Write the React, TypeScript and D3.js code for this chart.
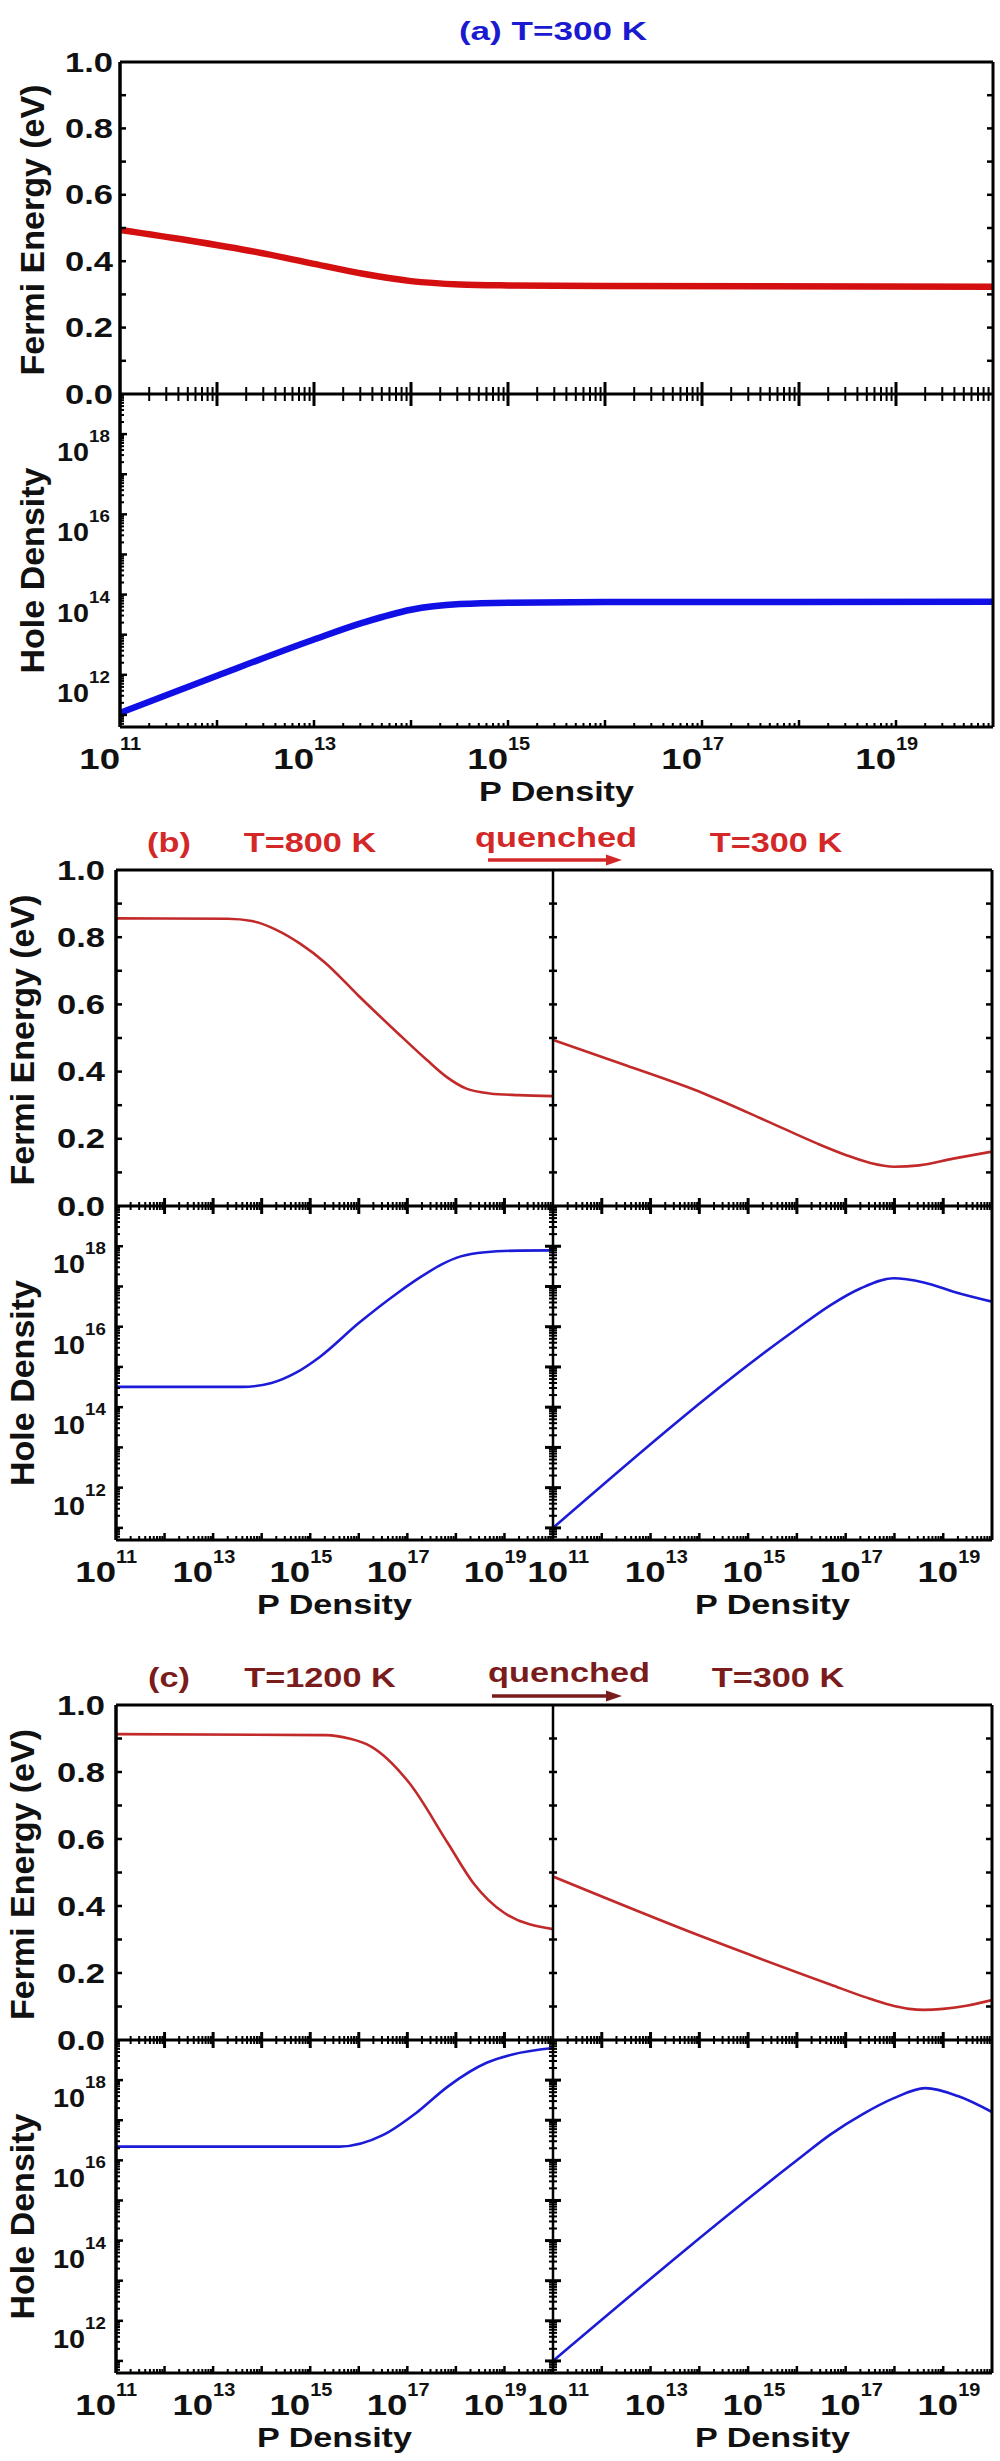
import React, { useEffect, useRef } from 'react';
import * as d3 from 'd3';

const W = 1000;
const H = 2461;
const FONT = '"Liberation Sans", Arial, Helvetica, sans-serif';

// axes
const pDomain: [number, number] = [1e11, 1e20];
const holeDomain: [number, number] = [5e10, 1e19];
const fermiTickLabels = [0, 0.2, 0.4, 0.6, 0.8, 1.0];
const holeTickLabels = [1e12, 1e14, 1e16, 1e18];
const pTickLabels = [1e11, 1e13, 1e15, 1e17, 1e19];

// (a) T=300 K
const aFermiP = [1e11, 5e11, 2.5e12, 1e13, 3.2e13, 1e14, 3.2e14, 1e15, 1e16, 1e20];
const aFermiE = [0.494, 0.463, 0.428, 0.392, 0.362, 0.340, 0.330, 0.327, 0.325, 0.323];
const aHoleP = [1e11, 1e12, 1e13, 3.2e13, 1e14, 3.2e14, 1e15, 1e16, 1e20];
const aHoleN = [1.12e11, 9.5e11, 7.6e12, 2e13, 4.2e13, 5.8e13, 6.3e13, 6.5e13, 6.6e13];

// (b) T=800 K, then quenched to 300 K
const b800FermiP = [1e11, 2e13, 6.3e13, 2e14, 6.3e14, 2e15, 1e16, 6.3e16, 2.5e17, 6.3e17, 1.6e18, 5e18, 2e19, 1e20];
const b800FermiE = [0.856, 0.855, 0.848, 0.822, 0.78, 0.725, 0.625, 0.515, 0.435, 0.385, 0.35, 0.335, 0.33, 0.327];
const b800HoleP = [1e11, 4e13, 1.6e14, 5e14, 1.6e15, 1e16, 6.3e16, 2e17, 5e17, 1.26e18, 4e18, 2e19, 1e20];
const b800HoleN = [3.2e14, 3.2e14, 4e14, 7.1e14, 1.8e15, 1.23e16, 6.9e16, 1.8e17, 3.5e17, 5.6e17, 7.1e17, 7.8e17, 7.9e17];
const b300FermiP = [1e11, 3.2e12, 1.23e14, 2.5e15, 2.5e16, 1e17, 3.2e17, 1e18, 3.2e18, 1.6e19, 1e20];
const b300FermiE = [0.494, 0.418, 0.335, 0.252, 0.187, 0.152, 0.128, 0.117, 0.121, 0.141, 0.162];
const b300HoleP = [1e11, 1e16, 5e16, 2e17, 9.5e17, 4e18, 2e19, 1e20];
const b300HoleN = [1e11, 8.9e15, 3.5e16, 8.9e16, 1.6e17, 1.26e17, 6.9e16, 4.2e16];

// (c) T=1200 K, then quenched to 300 K
const c1200FermiP = [1e11, 2.1e15, 6.3e15, 1.8e16, 1.1e17, 6.8e17, 2.3e18, 1e19, 1e20];
const c1200FermiE = [0.913, 0.91, 0.9, 0.876, 0.767, 0.588, 0.468, 0.379, 0.331];
const c1200HoleP = [1e11, 4e15, 3.2e16, 1.5e17, 6.8e17, 4.3e18, 1.4e19, 1e20];
const c1200HoleN = [2.2e16, 2.2e16, 4.3e16, 1.5e17, 6.9e17, 2.7e18, 4.3e18, 6.3e18];
const c300FermiP = [1e11, 1.17e14, 5e16, 2.5e17, 7.9e17, 2e18, 4e18, 1e19, 3.2e19, 1e20];
const c300FermiE = [0.488, 0.308, 0.165, 0.128, 0.105, 0.093, 0.09, 0.093, 0.103, 0.119];
const c300HoleP = [1e11, 1e16, 5e16, 2.2e17, 9.5e17, 4.3e18, 2e19, 1e20];
const c300HoleN = [1e11, 1e16, 4.5e16, 1.4e17, 3.5e17, 6.3e17, 4e17, 1.6e17];

// titles
const titleA = '(a) T=300 K';
const rowB = ['(b)', 'T=800 K', 'quenched', 'T=300 K'];
const rowC = ['(c)', 'T=1200 K', 'quenched', 'T=300 K'];

interface Sub {
  id: string;
  x0: number; x1: number;
  yTop: number; yMid: number; yBot: number;
  fermi: [number[], number[]];
  hole: [number[], number[]];
  lw: number;
  red: string; blue: string;
  first: boolean; last: boolean;
  midMajor: number; midMinor: number;
  labelShift: number;
  fermiGap: number;
  titleX: number;
  frameW: number;
}

const SX = 1.27;

function stext(g: any, x: number, y: number, s: string, size: number,
  anchor = 'middle', fill = '#111', sx = SX) {
  return g.append('text')
    .attr('transform', `translate(${x},${y}) scale(${sx},1)`)
    .attr('text-anchor', anchor)
    .attr('font-family', FONT)
    .attr('font-weight', 'bold')
    .attr('font-size', size)
    .attr('fill', fill)
    .text(s);
}

function drawSub(svg: any, o: Sub) {
  const x = d3.scaleLog().domain(pDomain).range([o.x0, o.x1]);
  const yE = d3.scaleLinear().domain([0, 1]).range([o.yMid, o.yTop]);
  const yH = d3.scaleLog().domain(holeDomain).range([o.yBot, o.yMid]);

  // curves
  svg.append('clipPath').attr('id', 'cf' + o.id).append('rect')
    .attr('x', o.x0).attr('y', o.yTop).attr('width', o.x1 - o.x0).attr('height', o.yMid - o.yTop);
  svg.append('clipPath').attr('id', 'ch' + o.id).append('rect')
    .attr('x', o.x0).attr('y', o.yMid).attr('width', o.x1 - o.x0).attr('height', o.yBot - o.yMid);

  const lineE = d3.line<[number, number]>()
    .x(d => x(d[0])).y(d => yE(d[1])).curve(d3.curveMonotoneX);
  const lineH = d3.line<[number, number]>()
    .x(d => x(d[0])).y(d => yH(d[1])).curve(d3.curveMonotoneX);

  svg.append('path')
    .attr('d', lineE(d3.zip(o.fermi[0], o.fermi[1]) as [number, number][]))
    .attr('clip-path', `url(#cf${o.id})`)
    .attr('fill', 'none').attr('stroke', o.red).attr('stroke-width', o.lw)
    .attr('stroke-linejoin', 'round');
  svg.append('path')
    .attr('d', lineH(d3.zip(o.hole[0], o.hole[1]) as [number, number][]))
    .attr('clip-path', `url(#ch${o.id})`)
    .attr('fill', 'none').attr('stroke', o.blue).attr('stroke-width', o.lw)
    .attr('stroke-linejoin', 'round');

  const ax = svg.append('g').attr('stroke', '#000').attr('fill', 'none');
  const tick = (x1: number, y1: number, x2: number, y2: number, w = 2) =>
    ax.append('line').attr('x1', x1).attr('y1', y1).attr('x2', x2).attr('y2', y2).attr('stroke-width', w);

  // frame
  tick(o.x0, o.yTop, o.x1, o.yTop, o.frameW);
  tick(o.x0, o.yBot, o.x1, o.yBot, o.frameW);
  tick(o.x0, o.yMid, o.x1, o.yMid, o.frameW);
  tick(o.x0, o.yTop, o.x0, o.yBot, o.first ? o.frameW + 0.5 : 2.5);
  if (o.last) tick(o.x1, o.yTop, o.x1, o.yBot, o.frameW);

  // x ticks on middle and bottom lines
  x.ticks().forEach(v => {
    const px = x(v);
    if (px <= o.x0 + 1 || px >= o.x1 - 1) return;
    const major = Math.abs(Math.log10(v) - Math.round(Math.log10(v))) < 1e-6;
    const m = major ? o.midMajor : o.midMinor;
    tick(px, o.yMid - m, px, o.yMid + m, major ? 3 : 2);
    tick(px, o.yBot, px, o.yBot - (major ? 7 : 4), major ? 2.5 : 2);
  });

  // fermi ticks every 0.1
  d3.range(1, 10).forEach(i => {
    const py = yE(i / 10);
    if (o.first) tick(o.x0, py, o.x0 + 6, py, 2.5);
    else tick(o.x0 - 4, py, o.x0 + 4, py, 2.5);
    if (o.last) tick(o.x1 - 6, py, o.x1, py, 2.5);
  });

  // hole ticks
  yH.ticks().forEach(v => {
    const py = yH(v);
    if (py <= o.yMid + 1 || py >= o.yBot - 1) return;
    const major = Math.abs(Math.log10(v) - Math.round(Math.log10(v))) < 1e-6;
    const m = major ? 7 : 4;
    if (o.first) tick(o.x0, py, o.x0 + m, py, major ? 2.5 : 2);
    else tick(o.x0 - (major ? 8 : 4), py, o.x0 + (major ? 8 : 4), py, major ? 3 : 2);
  });

  const lab = svg.append('g');
  // x tick labels
  pTickLabels.forEach(v => {
    const px = x(v) + o.labelShift;
    stext(lab, px, o.yBot + 42, '10', 30, 'end', '#111', 1.22);
    stext(lab, px, o.yBot + 23, String(Math.round(Math.log10(v))), 19, 'start', '#111', 1.05);
  });
  stext(lab, (o.x0 + o.x1) / 2, o.yBot + 74, 'P Density', 28, 'middle', '#111', 1.22);

  if (o.first) {
    fermiTickLabels.forEach(v => {
      stext(lab, o.x0 - o.fermiGap, yE(v) + 9.5, v.toFixed(1), 27, 'end', '#111', 1.28);
    });
    holeTickLabels.forEach(v => {
      const py = yH(v);
      stext(lab, o.x0 - 31, py + 27, '10', 25, 'end', '#111', 1.15);
      stext(lab, o.x0 - 31, py + 8, String(Math.round(Math.log10(v))), 17, 'start', '#111', 1.1);
    });
    lab.append('text')
      .attr('transform', `translate(${o.titleX},${(o.yTop + o.yMid) / 2 + 2}) rotate(-90)`)
      .attr('text-anchor', 'middle').attr('font-family', FONT).attr('font-weight', 'bold')
      .attr('font-size', 34).attr('fill', '#111').text('Fermi Energy (eV)');
    lab.append('text')
      .attr('transform', `translate(${o.titleX},${(o.yMid + o.yBot) / 2 + 10}) rotate(-90)`)
      .attr('text-anchor', 'middle').attr('font-family', FONT).attr('font-weight', 'bold')
      .attr('font-size', 34).attr('fill', '#111').text('Hole Density');
  }
}

function drawRow(svg: any, row: string[], xs: number[], y: number, color: string,
  arrow: [number, number, number]) {
  row.forEach((s, i) => {
    stext(svg, xs[i], y - (i === 2 ? 5 : 0), s, 27, 'middle', color, 1.27);
  });
  const [ax0, ax1, ay] = arrow;
  svg.append('line').attr('x1', ax0).attr('y1', ay).attr('x2', ax1 - 12).attr('y2', ay)
    .attr('stroke', color).attr('stroke-width', 3.5);
  svg.append('path')
    .attr('d', `M${ax1 - 16},${ay - 5.5} L${ax1},${ay} L${ax1 - 16},${ay + 5.5} Z`)
    .attr('fill', color);
}

const App: React.FC = () => {
  const svgRef = useRef<SVGSVGElement>(null);

  useEffect(() => {
    if (!svgRef.current) return;
    const svg = d3.select(svgRef.current);
    svg.selectAll('*').remove();
    svg.append('rect').attr('width', W).attr('height', H).attr('fill', '#fff');

    const redA = '#d40f0f';
    const blueA = '#1010e6';
    const redB = '#c22a2a';
    const blueB = '#1c1cd8';

    const subs: Sub[] = [
      {
        id: 'a', x0: 120, x1: 993, yTop: 62, yMid: 394, yBot: 727,
        fermi: [aFermiP, aFermiE], hole: [aHoleP, aHoleN], lw: 6.5,
        red: redA, blue: blueA, first: true, last: true,
        midMajor: 12, midMinor: 7, labelShift: 0, fermiGap: 7, titleX: 44, frameW: 3,
      },
      {
        id: 'bl', x0: 116, x1: 553, yTop: 870, yMid: 1206, yBot: 1540,
        fermi: [b800FermiP, b800FermiE], hole: [b800HoleP, b800HoleN], lw: 2.6,
        red: redB, blue: blueB, first: true, last: false,
        midMajor: 8, midMinor: 4, labelShift: 0, fermiGap: 11, titleX: 34, frameW: 3,
      },
      {
        id: 'br', x0: 553, x1: 992, yTop: 870, yMid: 1206, yBot: 1540,
        fermi: [b300FermiP, b300FermiE], hole: [b300HoleP, b300HoleN], lw: 2.6,
        red: redB, blue: blueB, first: false, last: true,
        midMajor: 8, midMinor: 4, labelShift: 15, fermiGap: 11, titleX: 34, frameW: 3,
      },
      {
        id: 'cl', x0: 116, x1: 553, yTop: 1705, yMid: 2040, yBot: 2373,
        fermi: [c1200FermiP, c1200FermiE], hole: [c1200HoleP, c1200HoleN], lw: 2.6,
        red: redB, blue: blueB, first: true, last: false,
        midMajor: 8, midMinor: 4, labelShift: 0, fermiGap: 11, titleX: 34, frameW: 3,
      },
      {
        id: 'cr', x0: 553, x1: 992, yTop: 1705, yMid: 2040, yBot: 2373,
        fermi: [c300FermiP, c300FermiE], hole: [c300HoleP, c300HoleN], lw: 2.6,
        red: redB, blue: blueB, first: false, last: true,
        midMajor: 8, midMinor: 4, labelShift: 15, fermiGap: 11, titleX: 34, frameW: 3,
      },
    ];
    subs.forEach(s => drawSub(svg, s));

    // panel titles
    stext(svg, 553, 40, titleA, 26, 'middle', '#1a1ad0', 1.35);
    drawRow(svg, rowB, [169, 310, 556, 776], 852, '#d42828', [488, 622, 860]);
    drawRow(svg, rowC, [169, 320, 569, 778], 1687, '#7a1c1c', [492, 622, 1696]);
  }, []);

  return (
    <svg ref={svgRef} width={W} height={H}
      style={{ position: 'absolute', left: 0, top: 0, display: 'block' }} />
  );
};

export default App;
